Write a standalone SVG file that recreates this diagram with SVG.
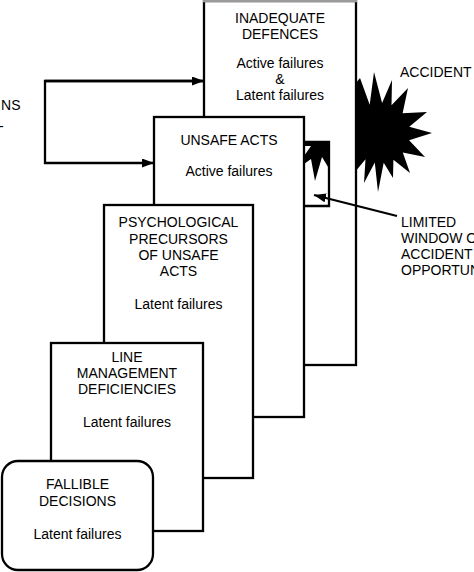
<svg xmlns="http://www.w3.org/2000/svg" width="474" height="572" viewBox="0 0 474 572">
<defs>
<style>
.box{fill:#fff;stroke:#000;stroke-width:2.3}
.t{font-family:"Liberation Sans",Arial,sans-serif;font-size:14px;fill:#000;text-anchor:middle}
.l{font-family:"Liberation Sans",Arial,sans-serif;font-size:14px;fill:#000}
.c{fill:none;stroke:#000;stroke-width:2.3}
</style>
<marker id="ah" markerUnits="userSpaceOnUse" markerWidth="13" markerHeight="10" refX="12" refY="4.5" orient="auto">
<path d="M0,0 L12,4.5 L0,9 z" fill="#000"/>
</marker>
<clipPath id="win"><rect x="304" y="142" width="25" height="64"/></clipPath>
</defs>
<rect width="474" height="572" fill="#fff"/>
<g id="accident">
<polygon fill="#000" points="360,78 369.7,104.8 374,72 382.1,103.1 392,80 391.5,105.3 408,88 402.6,113.3 427,112 409.3,126.8 432,133 409.1,140.3 425,157 402.8,152.5 410,173 393.4,159.8 393,178 383.7,162.8 378,192 374.8,162.5 364,183 365.5,159.2 350,178 340,133 350,90"/>
<text class="l" x="400" y="77">ACCIDENT</text>
</g>
<g id="defences">
<rect class="box" x="204" y="1" width="152" height="364"/>
<line x1="203" y1="1" x2="357" y2="1" stroke="#9a9a9a" stroke-width="2.4"/>
<text class="t" x="280" y="23">INADEQUATE</text>
<text class="t" x="280" y="39">DEFENCES</text>
<text class="t" x="280" y="68">Active failures</text>
<text class="t" x="280" y="84">&amp;</text>
<text class="t" x="280" y="100">Latent failures</text>
</g>
<g id="window">
<rect x="304" y="142" width="25" height="64" fill="#fff"/>
<g clip-path="url(#win)">
<polygon fill="#000" points="304,142 330,142 330,170 322,157 315,181 311,159 304,164"/>
<polygon fill="#fff" points="304,146 311,146 304,156"/>
</g>
<path class="c" d="M304,142 H329 V206 H304"/>
</g>
<g id="unsafe">
<rect class="box" x="154" y="117" width="150" height="300"/>
<text class="t" x="229" y="145">UNSAFE ACTS</text>
<text class="t" x="229" y="176">Active failures</text>
</g>
<g id="psychological">
<rect class="box" x="104" y="205" width="149" height="273"/>
<text class="t" x="178.5" y="227">PSYCHOLOGICAL</text>
<text class="t" x="178.5" y="243.5">PRECURSORS</text>
<text class="t" x="178.5" y="260">OF UNSAFE</text>
<text class="t" x="178.5" y="276">ACTS</text>
<text class="t" x="178.5" y="309">Latent failures</text>
</g>
<g id="line-management">
<rect class="box" x="51" y="343" width="152" height="188"/>
<text class="t" x="127" y="362">LINE</text>
<text class="t" x="127" y="378">MANAGEMENT</text>
<text class="t" x="127" y="394">DEFICIENCIES</text>
<text class="t" x="127" y="427">Latent failures</text>
</g>
<g id="fallible">
<rect class="box" x="2" y="461" width="151" height="109" rx="16" ry="16"/>
<text class="t" x="77.5" y="489">FALLIBLE</text>
<text class="t" x="77.5" y="506">DECISIONS</text>
<text class="t" x="77.5" y="539">Latent failures</text>
</g>
<g id="left-label">
<text class="l" x="20.5" y="110" text-anchor="end">NS</text>
<text class="l" x="-1" y="131">-</text>
</g>
<g id="limited-label">
<text class="l" x="401" y="227">LIMITED</text>
<text class="l" x="401" y="243">WINDOW OF</text>
<text class="l" x="401" y="259">ACCIDENT</text>
<text class="l" x="401" y="275">OPPORTUNITY</text>
</g>
<g id="connectors">
<path class="c" d="M204,81 H45 V163 H154" marker-end="url(#ah)"/>
<path class="c" d="M45,81 H204" marker-end="url(#ah)"/>
<path class="c" d="M397,216 L314,195" marker-end="url(#ah)"/>
</g>
</svg>
